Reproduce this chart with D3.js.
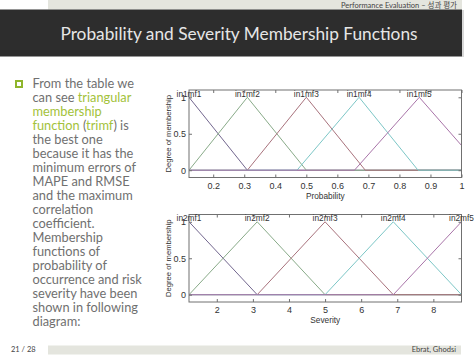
<!DOCTYPE html>
<html><head><meta charset="utf-8">
<script src="https://cdn.jsdelivr.net/npm/d3@7"></script>
<style>
html,body{margin:0;padding:0;background:#fff;}
svg{display:block;}
</style></head>
<body>
<svg id="c" width="474" height="355"></svg>
<script>
// ---- data ----
const probLabels = ["in1mf1","in1mf2","in1mf3","in1mf4","in1mf5"];
const probParams = [[-0.07,0.122,0.31],[0.122,0.31,0.5],[0.31,0.5,0.69],[0.47,0.67,0.86],[0.655,0.864,1.07]];
const probDomain = [0.122, 1.0];
const probTicks = [0.2,0.3,0.4,0.5,0.6,0.7,0.8,0.9,1];
const sevLabels = ["in2mf1","in2mf2","in2mf3","in2mf4","in2mf5"];
const sevParams = [[-0.66,1.23,3.12],[1.23,3.12,5.0],[3.12,5.0,6.89],[5.0,6.89,8.78],[6.89,8.78,10.67]];
const sevDomain = [1.23, 8.78];
const sevTicks = [2,3,4,5,6,7,8];
const yTicks = [0,0.5,1];
const mfColors = ["#72668e","#88aa88","#a8727c","#7cc6c6","#a874a8"];
const bodyLines = [
  [["From the table we",0]],
  [["can see ",0],["triangular",1]],
  [["membership",1]],
  [["function",1],[" (",0],["trimf",1],[") is",0]],
  [["the best one",0]],
  [["because it has the",0]],
  [["minimum errors of",0]],
  [["MAPE and RMSE",0]],
  [["and the maximum",0]],
  [["correlation",0]],
  [["coefficient.",0]],
  [["Membership",0]],
  [["functions of",0]],
  [["probability of",0]],
  [["occurrence and risk",0]],
  [["severity have been",0]],
  [["shown in following",0]],
  [["diagram:",0]]
];

const svg = d3.select("#c");
const slideFont = "'Lato','Open Sans',sans-serif";
const plotFont = "'Liberation Sans',Arial,sans-serif";

// header
svg.append("rect").attr("x",48).attr("y",0).attr("width",414).attr("height",9.5).attr("fill","#e4e5de");
svg.append("text").attr("x",457).attr("y",7.5).attr("text-anchor","end")
  .attr("font-family",slideFont+",'Noto Sans CJK KR'").attr("font-size",7.5).attr("fill","#444")
  .text("Performance Evaluation –  성과 평가");
svg.append("rect").attr("x",0).attr("y",9.5).attr("width",462).attr("height",47).attr("fill","#2d2d2d");
svg.append("rect").attr("x",462).attr("y",10).attr("width",2).attr("height",47).attr("fill","#d8d8d8");
svg.append("text").attr("x",239).attr("y",39.5).attr("text-anchor","middle")
  .attr("font-family",slideFont).attr("font-size",17.3).attr("fill","#e6e6e6")
  .text("Probability and Severity Membership Functions");

// footer
svg.append("rect").attr("x",48).attr("y",345.5).attr("width",413).attr("height",9).attr("fill","#e4e5de");
svg.append("text").attr("x",11).attr("y",352).attr("font-family",slideFont).attr("font-size",7.5).attr("fill","#444").text("21 / 28");
svg.append("text").attr("x",456).attr("y",352).attr("text-anchor","end").attr("font-family",slideFont).attr("font-size",7.5).attr("fill","#444").text("Ebrat, Ghodsi");

// bullet + body text
svg.append("rect").attr("x",16).attr("y",81).attr("width",6).attr("height",6)
  .attr("fill","none").attr("stroke","#8fb52c").attr("stroke-width",2);
bodyLines.forEach((ln,i)=>{
  const t = svg.append("text").attr("x",32.5).attr("y",88+i*14)
    .attr("font-family",slideFont).attr("font-size",12.8).attr("fill","#707070")
    .attr("xml:space","preserve");
  ln.forEach(seg=>{
    t.append("tspan").text(seg[0]).attr("fill", seg[1] ? "#a3c23a" : "#707070");
  });
});

function trimf(x,p){
  const [a,b,c]=p;
  if(x<=a||x>=c) return 0;
  return x<=b ? (x-a)/(b-a) : (c-x)/(c-b);
}
function mfPlot(opt){
  const {left,top,right,bottom,domain,params,labels,ticks,xlabel,id} = opt;
  const x = d3.scaleLinear().domain(domain).range([left,right]);
  const y = d3.scaleLinear().domain([-0.1,1.1]).range([bottom,top]);
  const g = svg.append("g");
  g.append("clipPath").attr("id",id).append("rect")
    .attr("x",left).attr("y",top).attr("width",right-left).attr("height",bottom-top);
  const line = d3.line().x(d=>x(d[0])).y(d=>y(d[1]));
  const lg = g.append("g").attr("clip-path",`url(#${id})`);
  params.forEach((p,i)=>{
    const xs = [domain[0]-1, p[0], p[1], p[2], domain[1]+1];
    const pts = xs.map((v,k)=>[v, k===2 ? 1 : trimf(v,p)]);
    lg.append("path").datum(pts).attr("d",line).attr("fill","none")
      .attr("stroke",mfColors[i]).attr("stroke-width",1);
  });
  g.append("rect").attr("x",left).attr("y",top).attr("width",right-left).attr("height",bottom-top)
    .attr("fill","none").attr("stroke","#707070").attr("stroke-width",1);
  const fmt = d3.format("~g");
  const ax = g.append("g").attr("transform",`translate(0,${bottom})`)
    .call(d3.axisBottom(x).tickValues(ticks).tickSize(-3).tickPadding(4).tickFormat(fmt));
  const axT = g.append("g").attr("transform",`translate(0,${top})`)
    .call(d3.axisTop(x).tickValues(ticks).tickSize(-3).tickFormat(""));
  const ay = g.append("g").attr("transform",`translate(${left},0)`)
    .call(d3.axisLeft(y).tickValues(yTicks).tickSize(-3).tickPadding(3).tickFormat(fmt));
  const ayR = g.append("g").attr("transform",`translate(${right},0)`)
    .call(d3.axisRight(y).tickValues(yTicks).tickSize(-3).tickFormat(""));
  [ax,axT,ay,ayR].forEach(a=>{
    a.select(".domain").remove();
    a.selectAll("line").attr("stroke","#707070");
    a.selectAll("text").attr("font-family",plotFont).attr("font-size",9).attr("fill","#333");
  });
  axT.selectAll("text").remove();
  ayR.selectAll("text").remove();
  ax.selectAll("text").attr("dy","0.8em");
  params.forEach((p,i)=>{
    g.append("text").attr("x",x(p[1])).attr("y",y(1)-0.5).attr("text-anchor","middle")
      .attr("font-family",plotFont).attr("font-size",8.3).attr("fill","#333")
      .text(labels[i]);
  });
  g.append("text").attr("x",(left+right)/2).attr("y",bottom+21).attr("text-anchor","middle")
    .attr("font-family",plotFont).attr("font-size",8.3).attr("fill","#333").text(xlabel);
  g.append("text").attr("transform",`translate(${left-18},${(top+bottom)/2}) rotate(-90)`)
    .attr("text-anchor","middle").attr("font-family",plotFont)
    .attr("font-size",7.6).attr("fill","#333").text("Degree of membership");
}
mfPlot({id:"cp1",left:189,top:90,right:461.5,bottom:177.5,domain:probDomain,params:probParams,labels:probLabels,ticks:probTicks,xlabel:"Probability"});
mfPlot({id:"cp2",left:189,top:214.5,right:461.5,bottom:302,domain:sevDomain,params:sevParams,labels:sevLabels,ticks:sevTicks,xlabel:"Severity"});
</script>
</body></html>
